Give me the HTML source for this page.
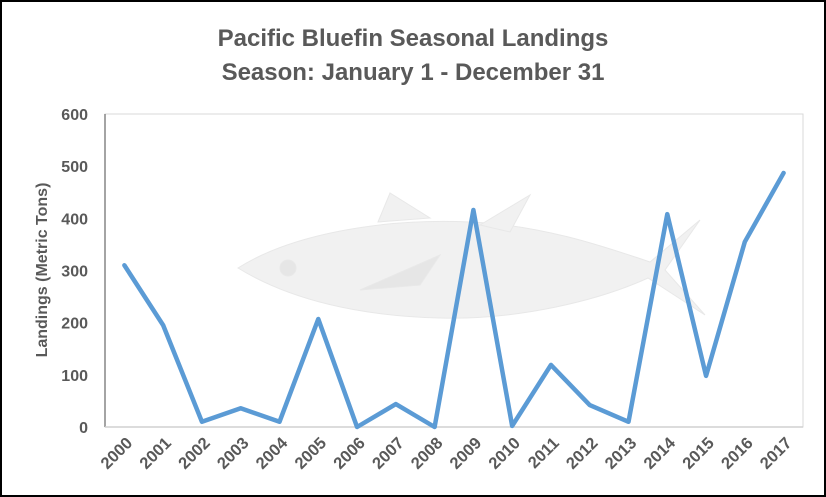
<!DOCTYPE html>
<html><head><meta charset="utf-8"><style>
html,body{margin:0;padding:0;background:#fff;}
svg{display:block;font-family:"Liberation Sans",Arial,sans-serif;}
</style></head><body>
<svg id="chart" width="826" height="497">
<rect x="1" y="1" width="824" height="495" fill="#fff" stroke="#000" stroke-width="2"/>
<text x="413" y="46" text-anchor="middle" font-size="24" font-weight="bold" fill="#595959">Pacific Bluefin Seasonal Landings</text>
<text x="413" y="80" text-anchor="middle" font-size="24" font-weight="bold" fill="#595959">Season: January 1 - December 31</text>
<g fill="#f1f1f1" stroke="#e8e8e8">
<path d="M238,268 C290,235 380,218 470,222 C540,225 600,245 650,262 L700,220 L665,270 L705,315 L648,278 C600,300 520,320 440,318 C360,316 290,300 238,268 Z"/>
<path d="M378,222 L390,193 L430,218 Z"/>
<path d="M480,225 L530,195 L510,232 Z"/>
<path d="M360,290 L440,255 L420,285 Z" fill="#e6e6e6"/>
<circle cx="288" cy="268" r="8" fill="#e6e6e6"/>
</g>
<rect x="105" y="114" width="698" height="313" fill="none" stroke="#d9d9d9"/>
<line x1="105" y1="114" x2="105" y2="427" stroke="#868686" stroke-width="1.5"/>
<line x1="105" y1="427" x2="803" y2="427" stroke="#d0d0d0" stroke-width="1.5"/>
<text transform="translate(47,270) rotate(-90)" text-anchor="middle" font-size="16" font-weight="bold" fill="#595959">Landings (Metric Tons)</text>
<g id="yticks"></g><g id="xticks"></g><g id="series"></g>
</svg>
<script>
const categories=["2000","2001","2002","2003","2004","2005","2006","2007","2008","2009","2010","2011","2012","2013","2014","2015","2016","2017"];
const landings=[310,195,10,36,10,207,0,44,0,416,2,119,42,10,408,98,355,487];
const yTickLabels=[0,100,200,300,400,500,600];
const ns="http://www.w3.org/2000/svg";
const X0=105,X1=803,Y0=427,Y1=114,YMAX=600;
function xPos(i){return X0+(X1-X0)/categories.length*(i+0.5);}
function yPos(v){return Y0-(Y0-Y1)*v/YMAX;}
const yg=document.getElementById('yticks');
yTickLabels.forEach(v=>{
 const t=document.createElementNS(ns,'text');
 
 
 t.setAttribute('x',88);t.setAttribute('y',yPos(v)+6);
 t.setAttribute('text-anchor','end');t.setAttribute('font-size','16');
 t.setAttribute('font-weight','bold');t.setAttribute('fill','#595959');
 t.textContent=v;yg.appendChild(t);
});
const xg=document.getElementById('xticks');
categories.forEach((c,i)=>{
 const t=document.createElementNS(ns,'text');
 
 
 const x=xPos(i)+9,y=444;
 t.setAttribute('transform','translate('+x+','+y+') rotate(-45)');
 t.setAttribute('text-anchor','end');t.setAttribute('font-size','16.5');
 t.setAttribute('font-weight','bold');t.setAttribute('fill','#595959');
 t.textContent=c;xg.appendChild(t);
});
const p=document.createElementNS(ns,'polyline');


p.setAttribute('points',landings.map((v,i)=>xPos(i)+','+yPos(v)).join(' '));
p.setAttribute('fill','none');p.setAttribute('stroke','#5b9bd5');
p.setAttribute('stroke-width','4.5');p.setAttribute('stroke-linejoin','round');p.setAttribute('stroke-linecap','round');
document.getElementById('series').appendChild(p);
</script>
</body></html>
